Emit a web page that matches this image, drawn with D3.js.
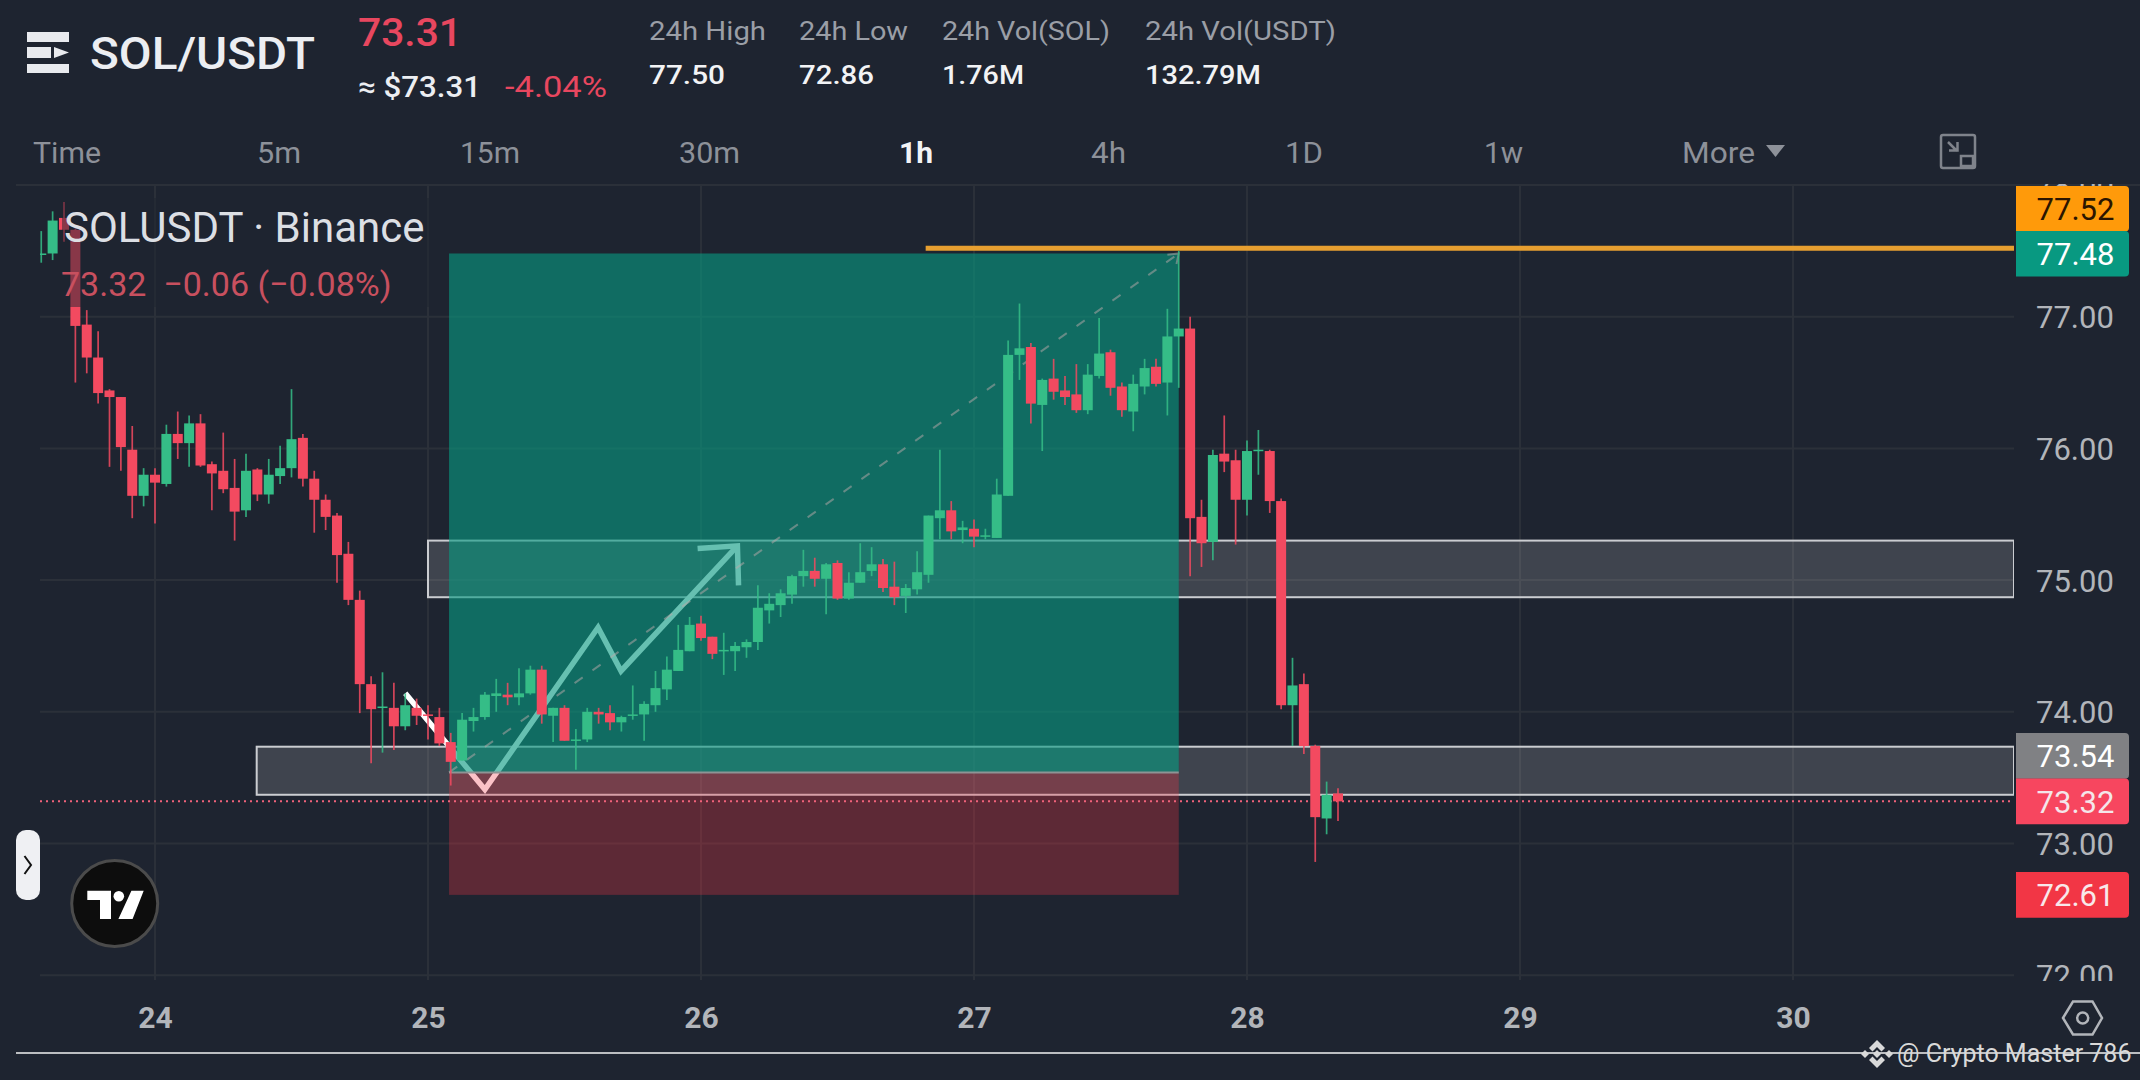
<!DOCTYPE html>
<html>
<head>
<meta charset="utf-8">
<script src="https://cdn.jsdelivr.net/npm/d3@7"></script>
<style>
html, body { margin: 0; padding: 0; background: #1e2430; }
svg { display: block; }
text { font-family: Roboto, sans-serif; }
</style>
</head>
<body>
<div id="chart"></div>
<script>
// hourly candles, first one is 10 hours before the 24th
const firstHour = -10
const opens = [
  77.47,77.48,77.75,77.66,76.94,76.69,76.44,76.39,75.99,75.64,
  75.80,75.73,76.11,76.04,76.19,75.88,75.83,75.70,75.53,75.84,
  75.65,75.79,75.85,76.08,75.77,75.61,75.49,75.20,74.85,74.21,
  74.03,74.03,73.89,74.03,73.98,73.96,73.77,73.63,73.93,73.96,
  74.12,74.13,74.11,74.14,74.32,73.97,74.03,73.78,73.79,74.00,
  73.99,73.92,73.97,73.98,74.05,74.17,74.31,74.46,74.67,74.57,
  74.46,74.46,74.49,74.53,74.77,74.81,74.89,75.03,75.07,75.01,
  75.13,74.86,74.98,75.07,75.12,74.95,74.88,74.93,75.04,75.47,
  75.53,75.38,75.39,75.33,75.32,75.64,76.71,76.77,76.33,76.53,
  76.44,76.41,76.29,76.55,76.73,76.47,76.28,76.47,76.62,76.50,
  76.85,76.91,75.48,75.29,75.96,75.91,75.61,75.98,75.98,75.60,
  74.05,74.21,73.74,73.19,73.38]
const closes = [
  77.48,77.73,77.66,76.93,76.69,76.42,76.39,76.01,75.64,75.80,
  75.74,76.11,76.04,76.19,75.87,75.81,75.69,75.52,75.83,75.65,
  75.80,75.85,76.07,75.77,75.61,75.48,75.19,74.85,74.21,74.02,
  74.04,73.89,74.05,73.97,73.97,73.76,73.62,73.94,73.96,74.13,
  74.14,74.11,74.14,74.32,73.98,74.03,73.78,73.79,74.00,73.98,
  73.92,73.96,73.98,74.06,74.18,74.32,74.47,74.66,74.56,74.44,
  74.47,74.50,74.53,74.79,74.82,74.90,75.03,75.07,75.01,75.12,
  74.86,74.98,75.06,75.12,74.94,74.87,74.94,75.06,75.49,75.53,
  75.37,75.40,75.33,75.34,75.65,76.71,76.76,76.34,76.52,76.43,
  76.39,76.29,76.56,76.72,76.46,76.29,76.49,76.61,76.49,76.85,
  76.91,75.47,75.28,75.95,75.90,75.61,75.98,75.99,75.60,74.05,
  74.20,73.74,73.20,73.37,73.32]
const highs = [
  77.65,77.80,77.87,77.67,77.05,76.89,76.45,76.39,76.17,75.85,
  75.85,76.18,76.28,76.25,76.26,75.90,76.12,75.92,75.96,75.85,
  75.92,76.02,76.45,76.11,75.83,75.65,75.51,75.29,74.92,74.27,
  74.30,74.22,74.14,74.10,74.05,74.03,73.84,73.99,74.03,74.15,
  74.25,74.22,74.33,74.35,74.35,74.03,74.05,73.87,74.03,74.03,
  74.05,73.97,74.20,74.08,74.31,74.42,74.66,74.72,74.73,74.57,
  74.60,74.53,74.55,74.96,74.90,74.93,75.04,75.23,75.17,75.13,
  75.15,75.06,75.28,75.25,75.16,75.14,74.97,75.22,75.49,75.99,
  75.60,75.45,75.46,75.39,75.77,76.82,77.10,76.80,76.53,76.68,
  76.55,76.64,76.64,76.99,76.75,76.50,76.56,76.68,76.68,77.06,
  77.50,77.00,75.61,75.99,76.25,75.99,76.06,76.14,75.99,75.62,
  74.41,74.29,73.75,73.47,73.42]
const lows = [
  77.41,77.43,77.57,76.50,76.57,76.34,75.86,75.83,75.47,75.56,
  75.43,75.71,75.92,75.86,75.86,75.53,75.66,75.30,75.48,75.60,
  75.58,75.73,75.78,75.71,75.36,75.38,74.98,74.81,73.99,73.61,
  73.69,73.71,73.86,73.90,73.79,73.74,73.44,73.63,73.85,73.94,
  74.00,74.05,74.05,74.13,73.91,73.77,73.78,73.56,73.77,73.91,
  73.86,73.85,73.94,73.78,74.00,74.09,74.31,74.46,74.54,74.40,
  74.28,74.31,74.41,74.47,74.67,74.72,74.82,74.95,74.95,74.74,
  74.85,74.85,74.98,75.03,74.91,74.81,74.75,74.89,74.98,75.31,
  75.31,75.28,75.25,75.31,75.32,75.64,76.52,76.19,75.98,76.37,
  76.33,76.27,76.26,76.53,76.40,76.24,76.13,76.41,76.47,76.25,
  76.46,75.03,75.10,75.15,75.82,75.27,75.49,75.80,75.51,74.02,
  73.74,73.68,72.86,73.07,73.17]

// y axis and day labels
const priceTicks = [72, 73, 74, 75, 76, 77, 78]
const dayTicks = [24, 25, 26, 27, 28, 29, 30]

// drawing tools, hours from midnight of the 24th and price
const zones = [
  {fromHour: 8.94, top: 73.735, bottom: 73.37},
  {fromHour: 24, top: 75.30, bottom: 74.87}
]
const positionHours = [25.85, 90]
const targetPrice = 77.48
const entryPrice = 73.54
const stopPrice = 72.61
const lastPrice = 73.32
const alertPrice = 77.52
const alertFromHour = 67.75

const pathHours = [22, 29, 38.95, 40.97, 51.2]
const pathPrices = [74.14, 73.41, 74.64, 74.31, 75.26]
const headHours = [47.7, 51.2, 51.3]
const headPrices = [75.24, 75.26, 74.96]

// tags stack up so they sit a bit off their own price
const priceTags = [
  {label: "77.52", price: 77.82, bg: "#ff9a0a", fg: "#2b1500"},
  {label: "77.48", price: 77.478, bg: "#089981", fg: "#ffffff"},
  {label: "73.54", price: 73.665, bg: "#808184", fg: "#ffffff"},
  {label: "73.32", price: 73.32, bg: "#f7465f", fg: "#f4e6ea"},
  {label: "72.61", price: 72.61, bg: "#f23645", fg: "#f8e8ea"}
]

// w is the width the text takes in the screenshot, it is stretched a little
const headStats = [
  {name: "24h High", nameW: 117, value: "77.50", valueW: 76, x: 649},
  {name: "24h Low", nameW: 109, value: "72.86", valueW: 75, x: 799},
  {name: "24h Vol(SOL)", nameW: 168, value: "1.76M", valueW: 82, x: 942},
  {name: "24h Vol(USDT)", nameW: 191, value: "132.79M", valueW: 116, x: 1145}
]
const tabs = [
  {name: "Time", w: 68, x: 33}, {name: "5m", w: 44, x: 257}, {name: "15m", w: 60, x: 460},
  {name: "30m", w: 61, x: 679}, {name: "1h", w: 34, x: 899, on: true}, {name: "4h", w: 35, x: 1091},
  {name: "1D", w: 38, x: 1285}, {name: "1w", w: 39, x: 1484}, {name: "More", w: 73, x: 1682}
]

const width = 2140
const height = 1080
const plot = {left: 40, right: 2014, top: 185, bottom: 980}
const bg = "#1e2430"
const green = "#35bd87"
const red = "#f34a60"
const gridColor = "#2b3039"
const axisColor = "#b2b5ba"

let x = d3.scaleLinear().domain([0, 24]).range([155, 428])
let y = d3.scaleLinear().domain([72, 77]).range([975.2, 316.7])

let svg = d3.select("#chart").append("svg")
  .attr("width", width)
  .attr("height", height)
  .attr("viewBox", `0 0 ${width} ${height}`)
  .style("background", bg)

let defs = svg.append("defs")
defs.append("clipPath").attr("id", "plotClip").append("rect")
  .attr("x", plot.left).attr("y", plot.top)
  .attr("width", plot.right - plot.left).attr("height", plot.bottom - plot.top)
defs.append("clipPath").attr("id", "axisClip").append("rect")
  .attr("x", plot.right).attr("y", 184)
  .attr("width", width - plot.right).attr("height", 797)

// separators
svg.append("line").attr("x1", 16).attr("x2", width).attr("y1", 185).attr("y2", 185)
  .attr("stroke", gridColor).attr("stroke-width", 2)
svg.append("line").attr("x1", 16).attr("x2", width).attr("y1", 1053).attr("y2", 1053)
  .attr("stroke", "#f2f2f2").attr("stroke-width", 1.5)

// grid
svg.append("g").selectAll("line").data(priceTicks.filter(d => d < 78)).join("line")
  .attr("x1", plot.left).attr("x2", plot.right)
  .attr("y1", d => y(d)).attr("y2", d => y(d))
  .attr("stroke", gridColor).attr("stroke-width", 2)
svg.append("g").selectAll("line").data(dayTicks).join("line")
  .attr("x1", d => x((d - 24) * 24)).attr("x2", d => x((d - 24) * 24))
  .attr("y1", plot.top).attr("y2", plot.bottom)
  .attr("stroke", gridColor).attr("stroke-width", 2)

let chart = svg.append("g").attr("clip-path", "url(#plotClip)")

// grey zones, they sit under the position box
chart.append("g").selectAll("rect").data(zones).join("rect")
  .attr("x", d => x(d.fromHour))
  .attr("y", d => y(d.top))
  .attr("width", d => plot.right - x(d.fromHour))
  .attr("height", d => y(d.bottom) - y(d.top))
  .attr("fill", "#ffffff").attr("fill-opacity", 0.15)
  .attr("stroke", "#cbcdd1").attr("stroke-width", 2)

// hand drawn arrow, also under the box (that is why it goes teal and pink)
let arrowLine = d3.line().x(d => x(d[0])).y(d => y(d[1]))
chart.append("path")
  .attr("d", arrowLine(d3.zip(pathHours, pathPrices)))
  .attr("fill", "none").attr("stroke", "#ffffff").attr("stroke-width", 5.5)
chart.append("path")
  .attr("d", arrowLine(d3.zip(headHours, headPrices)))
  .attr("fill", "none").attr("stroke", "#ffffff").attr("stroke-width", 5.5)

// long position
let px0 = x(positionHours[0])
let px1 = x(positionHours[1])
chart.append("rect")
  .attr("x", px0).attr("width", px1 - px0)
  .attr("y", y(targetPrice)).attr("height", y(entryPrice) - y(targetPrice))
  .attr("fill", "#089981").attr("fill-opacity", 0.62)
chart.append("rect")
  .attr("x", px0).attr("width", px1 - px0)
  .attr("y", y(entryPrice)).attr("height", y(stopPrice) - y(entryPrice))
  .attr("fill", "#f23645").attr("fill-opacity", 0.3)
chart.append("line")
  .attr("x1", px0).attr("x2", px1)
  .attr("y1", y(entryPrice)).attr("y2", y(entryPrice))
  .attr("stroke", "#8e9495").attr("stroke-width", 2)
chart.append("line")
  .attr("x1", px0).attr("x2", px1)
  .attr("y1", y(entryPrice)).attr("y2", y(targetPrice))
  .attr("stroke", "#b9a9a9").attr("stroke-opacity", 0.5)
  .attr("stroke-width", 2).attr("stroke-dasharray", "10 12")
chart.append("path")
  .attr("d", arrowLine([[89, targetPrice - 0.01], [positionHours[1], targetPrice], [89.8, targetPrice - 0.08]]))
  .attr("fill", "none").attr("stroke", "#b9a9a9").attr("stroke-opacity", 0.5).attr("stroke-width", 2)

// last price and alert lines
chart.append("line")
  .attr("x1", plot.left).attr("x2", plot.right)
  .attr("y1", y(lastPrice)).attr("y2", y(lastPrice))
  .attr("stroke", "#f0627a").attr("stroke-width", 2).attr("stroke-dasharray", "2 4")
chart.append("line")
  .attr("x1", x(alertFromHour)).attr("x2", plot.right)
  .attr("y1", y(alertPrice)).attr("y2", y(alertPrice))
  .attr("stroke", "#e79f30").attr("stroke-width", 5)

// candles
let candles = opens.map((o, i) => ({
  hour: firstHour + i, open: o, close: closes[i], high: highs[i], low: lows[i]
}))
let bodyWidth = 10
let candle = chart.append("g").selectAll("g").data(candles).join("g")
  .attr("fill", d => d.close >= d.open ? green : red)
  .attr("stroke", d => d.close >= d.open ? green : red)
candle.append("line")
  .attr("x1", d => x(d.hour)).attr("x2", d => x(d.hour))
  .attr("y1", d => y(d.high)).attr("y2", d => y(d.low))
  .attr("stroke-width", 1.7).attr("stroke-opacity", 0.85)
candle.append("rect")
  .attr("x", d => x(d.hour) - bodyWidth / 2)
  .attr("width", bodyWidth)
  .attr("y", d => y(Math.max(d.open, d.close)))
  .attr("height", d => Math.max(1.5, Math.abs(y(d.open) - y(d.close))))
  .attr("stroke", "none")

// chart legend has a see-through plate
svg.append("rect").attr("x", 62).attr("y", 198).attr("width", 368).attr("height", 109)
  .attr("fill", bg).attr("fill-opacity", 0.5)
svg.append("text").attr("x", 64).attr("y", 241.5)
  .attr("font-size", 42).attr("fill", "#dcdfe4")
  .text("SOLUSDT · Binance")
svg.append("text").attr("x", 61).attr("y", 296)
  .attr("font-size", 34).attr("fill", "#c8505f").attr("xml:space", "preserve")
  .text("73.32  −0.06 (−0.08%)")

// price axis
let yAxis = svg.append("g").attr("clip-path", "url(#axisClip)").append("g")
  .attr("transform", `translate(${plot.right},1)`)
  .call(d3.axisRight(y).tickValues(priceTicks).tickFormat(d3.format(".2f")).tickSize(0).tickPadding(22))
yAxis.select(".domain").remove()
yAxis.selectAll("text")
  .attr("font-size", 31).attr("font-family", "Roboto, sans-serif").attr("fill", axisColor)

// day axis
let xAxis = svg.append("g")
  .attr("transform", `translate(0,${plot.bottom})`)
  .call(d3.axisBottom(x)
    .tickValues(dayTicks.map(d => (d - 24) * 24))
    .tickFormat((d, i) => dayTicks[i])
    .tickSize(0).tickPadding(27))
xAxis.select(".domain").remove()
xAxis.selectAll("text")
  .attr("font-size", 30).attr("font-weight", 700)
  .attr("font-family", "Roboto, sans-serif").attr("fill", axisColor)

// price tags on the axis
let tag = svg.append("g").selectAll("g").data(priceTags).join("g")
tag.append("path")
  .attr("d", d => {
    let t = y(d.price) - 22.8, r = 2129, l = 2016, h = 45.6
    return `M${l},${t}H${r - 4}Q${r},${t} ${r},${t + 4}V${t + h - 4}Q${r},${t + h} ${r - 4},${t + h}H${l}Z`
  })
  .attr("fill", d => d.bg)
tag.append("text")
  .attr("x", 2075.5).attr("y", d => y(d.price) + 11.5)
  .attr("text-anchor", "middle").attr("font-size", 31)
  .attr("fill", d => d.fg)
  .text(d => d.label)

// header
let head = svg.append("g")
let stretched = (sel, w) => sel.attr("textLength", w).attr("lengthAdjust", "spacingAndGlyphs")
head.append("path")
  .attr("d", "M27,32H69V42H27ZM27,47H51V58H27ZM54,47L69,52.5L54,58ZM27,64H69V73H27Z")
  .attr("fill", "#e8eaee")
head.append("text").attr("x", 90).attr("y", 69)
  .attr("font-size", 45).attr("font-weight", 500).attr("fill", "#eceef2").text("SOL/USDT")
  .call(stretched, 225)
head.append("text").attr("x", 358).attr("y", 46)
  .attr("font-size", 39).attr("font-weight", 500).attr("fill", "#e8475f").text("73.31")
  .call(stretched, 104)
head.append("text").attr("x", 358).attr("y", 97)
  .attr("font-size", 29).attr("font-weight", 500).attr("fill", "#eceef2").text("≈ $73.31")
  .call(stretched, 123)
head.append("text").attr("x", 505).attr("y", 97)
  .attr("font-size", 29).attr("fill", "#e8475f").text("-4.04%")
  .call(stretched, 102)
head.selectAll(".statName").data(headStats).join("text")
  .attr("class", "statName").attr("x", d => d.x).attr("y", 40)
  .attr("font-size", 26).attr("fill", "#9a9ea6").text(d => d.name)
  .attr("textLength", d => d.nameW).attr("lengthAdjust", "spacingAndGlyphs")
head.selectAll(".statValue").data(headStats).join("text")
  .attr("class", "statValue").attr("x", d => d.x).attr("y", 83.5)
  .attr("font-size", 26).attr("font-weight", 500).attr("fill", "#f2f3f5").text(d => d.value)
  .attr("textLength", d => d.valueW).attr("lengthAdjust", "spacingAndGlyphs")

// timeframe tabs
head.selectAll(".tab").data(tabs).join("text")
  .attr("class", "tab").attr("x", d => d.x).attr("y", 162.5)
  .attr("font-size", 29)
  .attr("font-weight", d => d.on ? 700 : 400)
  .attr("fill", d => d.on ? "#f2f3f5" : "#8d9199")
  .text(d => d.name)
  .attr("textLength", d => d.w).attr("lengthAdjust", "spacingAndGlyphs")
head.append("path").attr("d", "M1766,145H1785L1775.5,157Z").attr("fill", "#8d9199")
head.append("rect").attr("x", 1941).attr("y", 135).attr("width", 34).attr("height", 33).attr("rx", 2)
  .attr("fill", "none").attr("stroke", "#7f838b").attr("stroke-width", 2.5)
head.append("rect").attr("x", 1961).attr("y", 156).attr("width", 12).attr("height", 10)
  .attr("fill", bg).attr("stroke", "#7f838b").attr("stroke-width", 2.5)
head.append("path").attr("d", "M1948,142L1957,151M1949,150.5H1957.5V142")
  .attr("fill", "none").attr("stroke", "#7f838b").attr("stroke-width", 2.5)

// left handle and tradingview badge
svg.append("rect").attr("x", 16).attr("y", 830).attr("width", 24).attr("height", 70).attr("rx", 10)
  .attr("fill", "#eff0f3")
svg.append("path").attr("d", "M24.5,856L31,865L24.5,874")
  .attr("fill", "none").attr("stroke", "#111111").attr("stroke-width", 2)
svg.append("circle").attr("cx", 114.7).attr("cy", 903.5).attr("r", 43)
  .attr("fill", "#0d0d0d").attr("stroke", "#4b4b4b").attr("stroke-width", 3)
svg.append("path")
  .attr("d", "M87.3,890.7H111V919H100V900H87.3ZM131.4,890.7H143.7L132.6,919H118.4Z")
  .attr("fill", "#ffffff")
svg.append("circle").attr("cx", 118.8).attr("cy", 896.3).attr("r", 5.3).attr("fill", "#ffffff")

// settings hexagon
svg.append("path").attr("d", "M2063,1018L2073,1001.5H2092.5L2102,1018L2092.5,1034.5H2073Z")
  .attr("fill", "none").attr("stroke", axisColor).attr("stroke-width", 2.5)
svg.append("circle").attr("cx", 2082.7).attr("cy", 1018).attr("r", 5.5)
  .attr("fill", "none").attr("stroke", axisColor).attr("stroke-width", 2.5)

// watermark
svg.append("path")
  .attr("d", "M1877,1040L1885,1048L1881.5,1051.5L1877,1047L1872.5,1051.5L1869,1048Z"
    + "M1877,1068L1869,1060L1872.5,1056.5L1877,1061L1881.5,1056.5L1885,1060Z"
    + "M1877,1050L1881,1054L1877,1058L1873,1054Z"
    + "M1865,1050L1869,1054L1865,1058L1861,1054ZM1889,1050L1893,1054L1889,1058L1885,1054Z")
  .attr("fill", "#d9d9d9")
svg.append("text").attr("x", 1897).attr("y", 1062)
  .attr("font-size", 25).attr("fill", "#d9d9d9").text("@ Crypto Master 786")
</script>
</body>
</html>
